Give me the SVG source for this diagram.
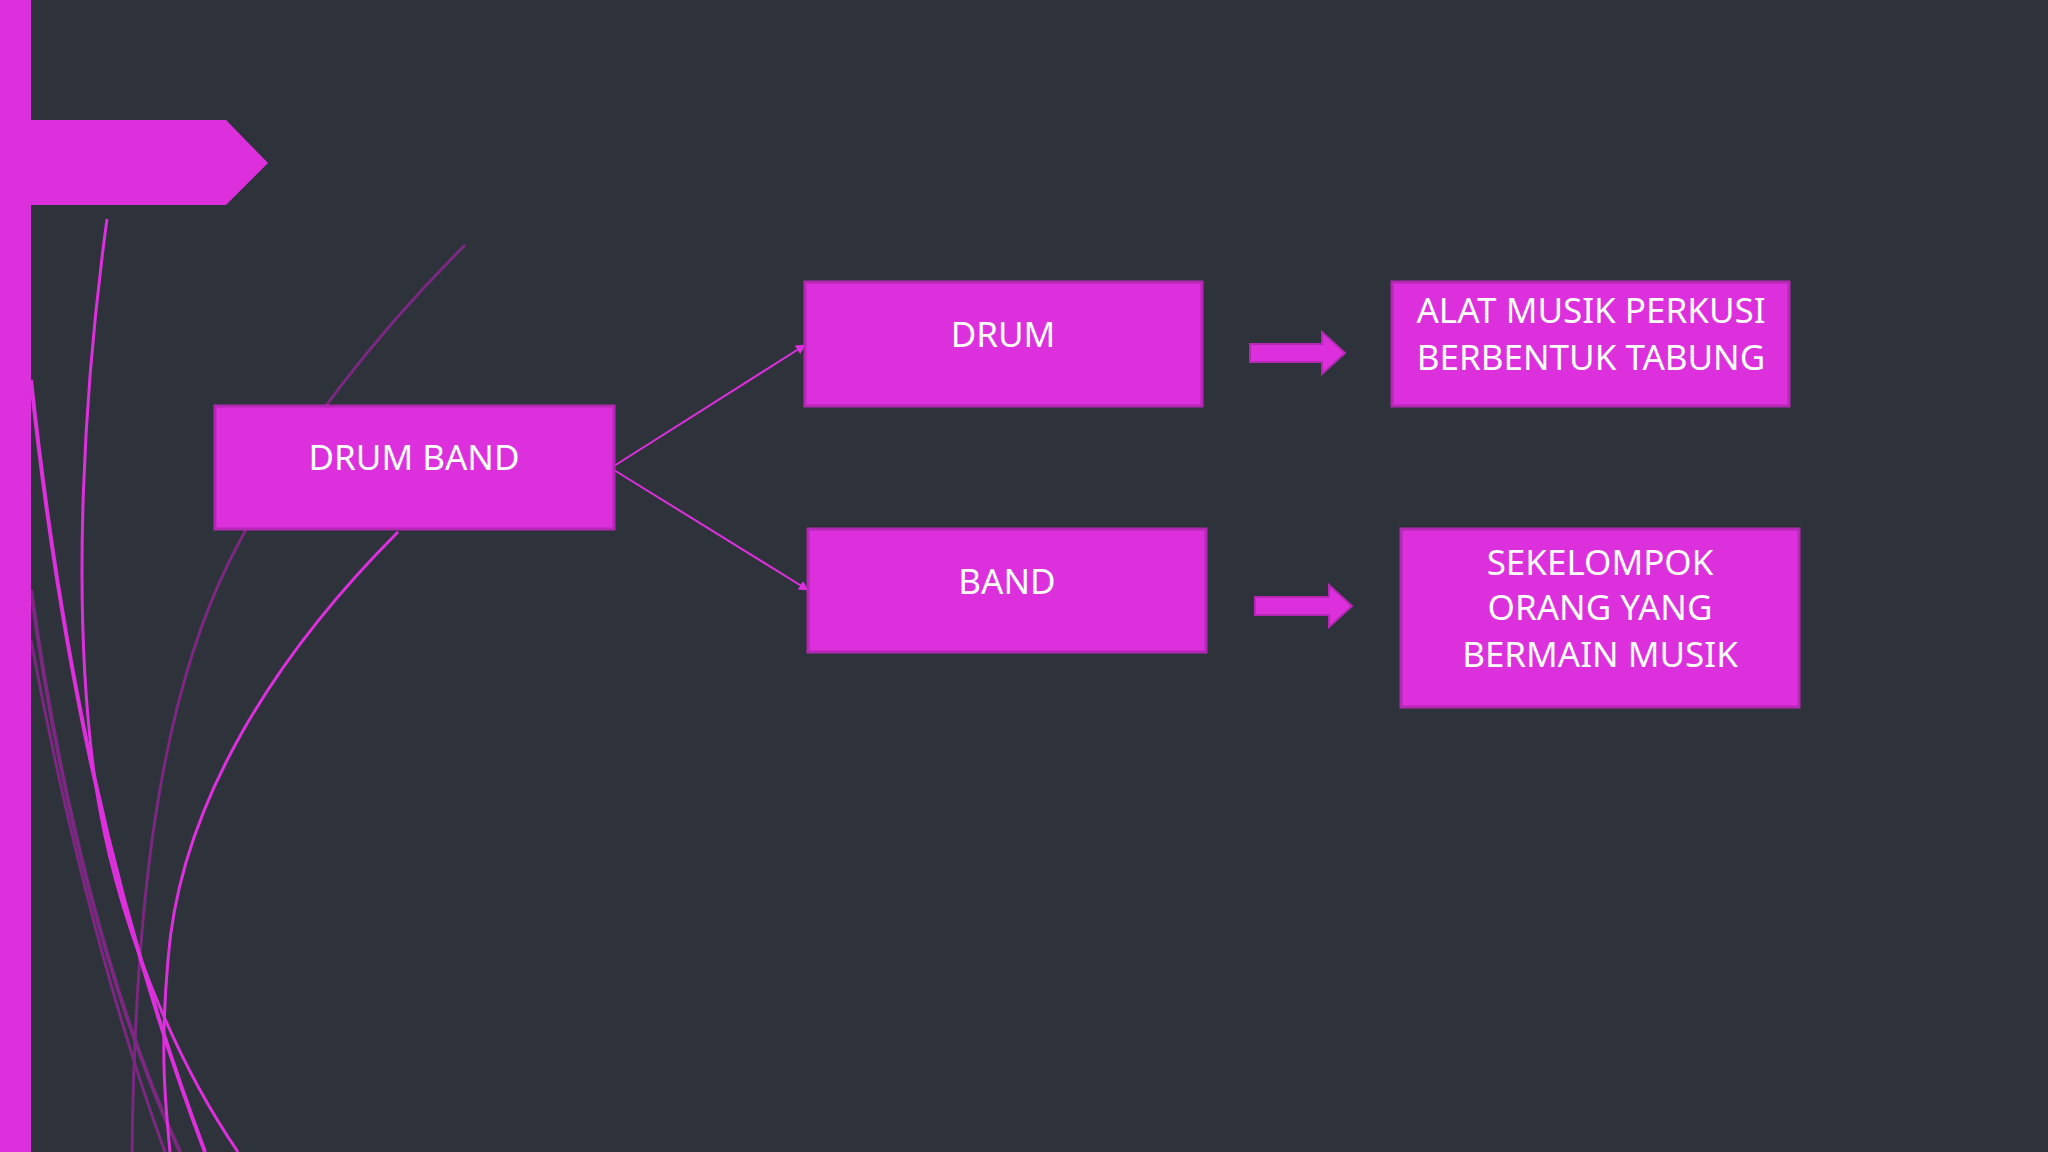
<svg xmlns="http://www.w3.org/2000/svg" width="2048" height="1152" viewBox="0 0 2048 1152">
<defs>
<style>
.box{fill:#DD30DD;stroke:#B428B4;stroke-width:3}
.t{font-family:"Noto Sans","Open Sans",sans-serif;font-size:35px;fill:#FFFFFF;text-anchor:middle}
.c{fill:none;stroke:#DD30DD}
.cd{fill:none;stroke:#7A2880}
.ln{stroke:#DD30DD;stroke-width:2;fill:none}
</style>
<marker id="ah" markerWidth="10" markerHeight="10" refX="9" refY="5" orient="auto" markerUnits="userSpaceOnUse"><path d="M0,0 L10,5 L0,10 z" fill="#DD30DD"/></marker>
</defs>
<rect width="2048" height="1152" fill="#2D323B"/>
<g id="decor">
<path class="cd" stroke-width="3" d="M465,245 C380,330 290,440 230,560 C160,700 135,900 132,1152"/>
<path class="cd" stroke-width="4" d="M31,590 C60,800 110,1000 180,1152"/>
<path class="cd" stroke-width="3" d="M31,640 C70,850 120,1030 165,1152"/>
<path class="c" stroke-width="3" d="M107,219 C85,380 70,600 95,780 C115,920 175,1060 238,1152"/>
<path class="c" stroke-width="4" d="M31,380 C60,650 110,900 205,1152"/>
<path class="c" stroke-width="3" d="M398,532 C280,650 180,800 168,960 C160,1050 165,1100 170,1152"/>
<rect x="0" y="0" width="31" height="1152" fill="#DD30DD"/>
<path d="M31,120 L226,120 L268,163 L226,205 L31,205 z" fill="#DD30DD"/>
</g>
<g id="connectors">
<line class="ln" x1="614" y1="466" x2="805" y2="345" marker-end="url(#ah)"/>
<line class="ln" x1="614" y1="470" x2="808" y2="590" marker-end="url(#ah)"/>
<path d="M1250,344 L1322,344 L1322,332 L1345,353 L1322,374 L1322,362 L1250,362 z" fill="#DD30DD" stroke="#B428B4" stroke-width="2"/>
<path d="M1255,597 L1329,597 L1329,585 L1352,606 L1329,627 L1329,615 L1255,615 z" fill="#DD30DD" stroke="#B428B4" stroke-width="2"/>
</g>
<g id="drumband"><rect class="box" x="215" y="406" width="399" height="123"/><text class="t" x="414" y="470">DRUM BAND</text></g>
<g id="drum"><rect class="box" x="805" y="282" width="397" height="124"/><text class="t" x="1003" y="347">DRUM</text></g>
<g id="band"><rect class="box" x="808" y="529" width="398" height="123"/><text class="t" x="1007" y="594">BAND</text></g>
<g id="alat"><rect class="box" x="1392" y="282" width="397" height="124"/><text class="t" x="1591" y="323">ALAT MUSIK PERKUSI</text><text class="t" x="1591" y="370">BERBENTUK TABUNG</text></g>
<g id="sekelompok"><rect class="box" x="1401" y="529" width="398" height="178"/><text class="t" x="1600" y="575">SEKELOMPOK</text><text class="t" x="1600" y="620">ORANG YANG</text><text class="t" x="1600" y="667">BERMAIN MUSIK</text></g>
</svg>
